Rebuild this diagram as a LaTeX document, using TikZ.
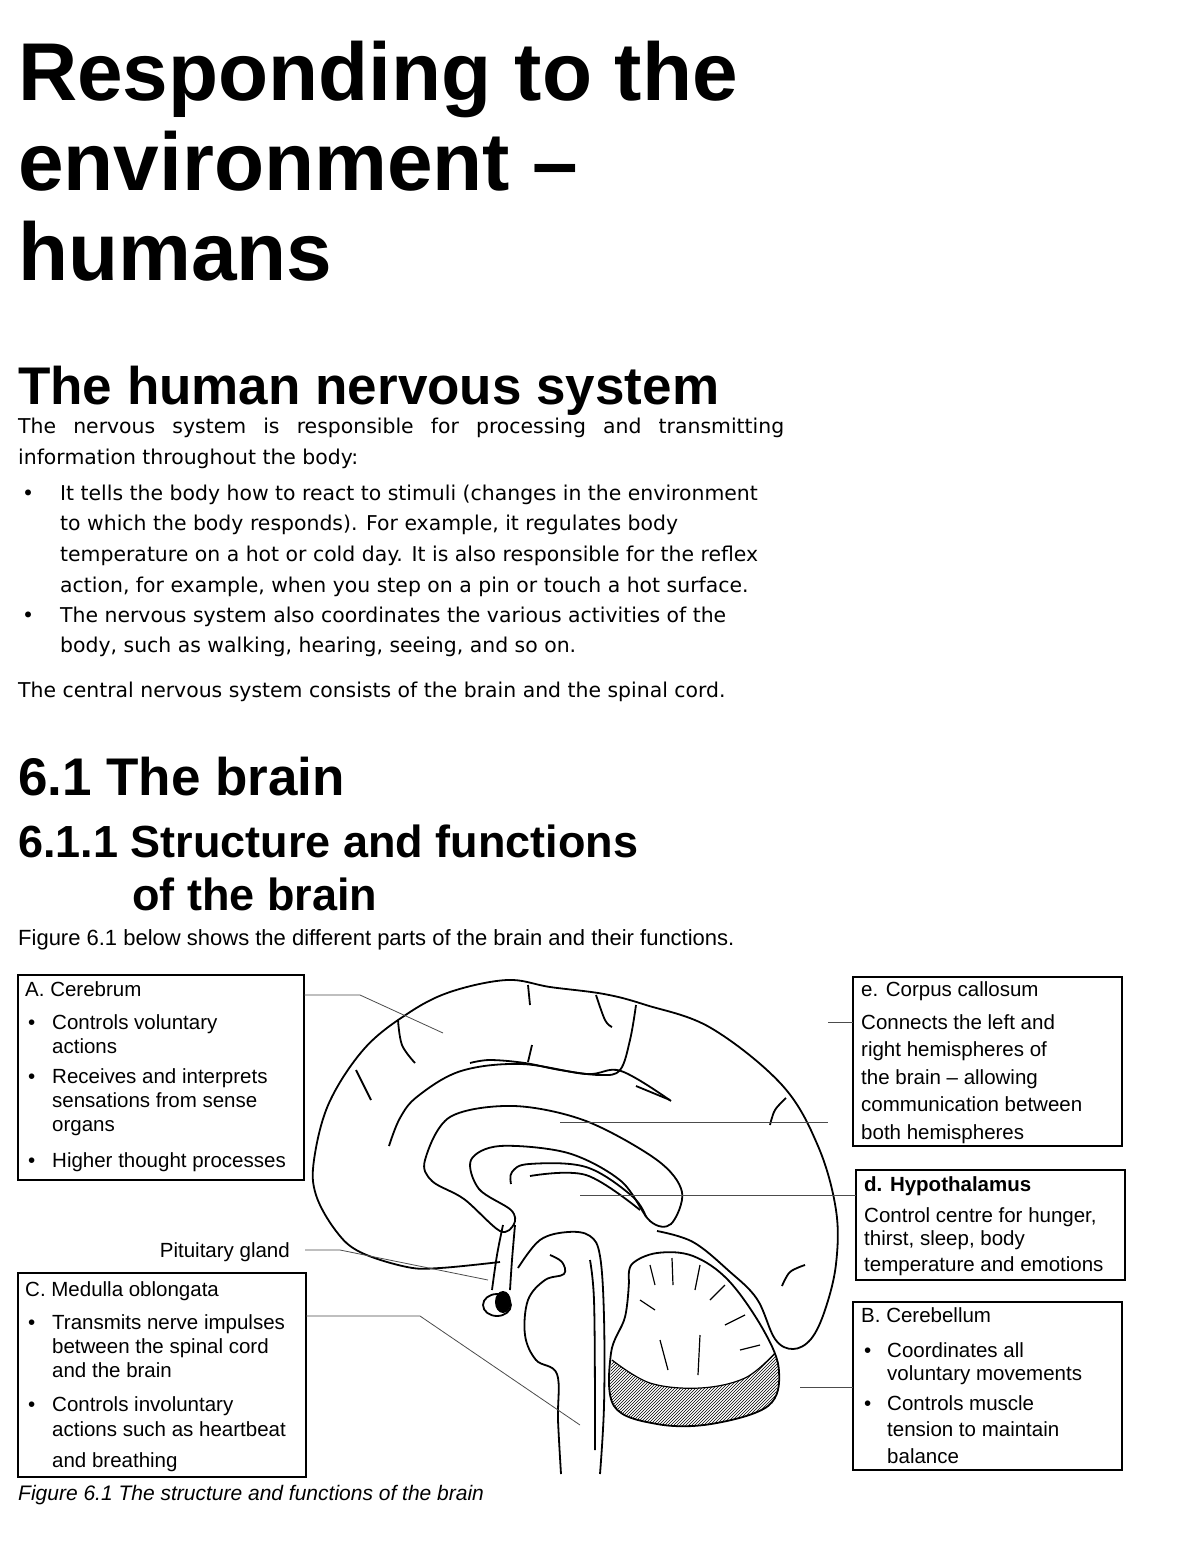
\documentclass[tikz,border=0pt]{standalone}
\usepackage{fontspec}
\setmainfont{Liberation Sans}
\newfontfamily\bodyf{DejaVu Sans}
\usetikzlibrary{patterns}
\begin{document}
\begin{tikzpicture}[x=1pt,y=-1pt,
  tl/.style={anchor=base west,inner sep=0pt,font=\fontsize{82}{82}\selectfont\bfseries},
  hd/.style={anchor=base west,inner sep=0pt,font=\fontsize{53}{53}\selectfont\bfseries},
  bd/.style={anchor=base west,inner sep=0pt,font=\bodyf\fontsize{20.4}{31}\selectfont},
  bx/.style={anchor=base west,inner sep=0pt,font=\fontsize{20.5}{22}\selectfont},
  box/.style={draw,line width=1.2pt},
  ln/.style={line width=0.8pt,gray!60!black},
  br/.style={line width=1.8pt,line join=round}]
\useasboundingbox (0,0) rectangle (1200,1553);
\fill[white] (0,0) rectangle (1200,1553);
% title
\node[tl] (t1) at (18,100) {Responding to the};
\node[tl] (t2) at (18,190) {environment –};
\node[tl] (t3) at (18,280) {humans};
\node[hd] (h1) at (18,404) {The human nervous system};
\node[bd,text width=766pt,align=justify,anchor=north west] (p1) at (18,418) {The nervous system is responsible for processing and transmitting\linebreak information throughout the body:};
\node[bd] (b1) at (22,500) {•};
\node[bd] (l1) at (60,500) {It tells the body how to react to stimuli (changes in the environment};
\node[bd] (l2) at (60,530) {to which the body responds). For example, it regulates body};
\node[bd] (l3) at (60,561) {temperature on a hot or cold day. It is also responsible for the reflex};
\node[bd] (l4) at (60,592) {action, for example, when you step on a pin or touch a hot surface.};
\node[bd] (b2) at (22,622) {•};
\node[bd] (l5) at (60,622) {The nervous system also coordinates the various activities of the};
\node[bd] (l6) at (60,652) {body, such as walking, hearing, seeing, and so on.};
\node[bd] (l7) at (18,697) {The central nervous system consists of the brain and the spinal cord.};
\node[hd] (h2) at (18,795) {6.1 The brain};
\node[hd,font=\fontsize{45}{45}\selectfont\bfseries] (h3) at (18,857) {6.1.1 Structure and functions};
\node[hd,font=\fontsize{45}{45}\selectfont\bfseries] (h4) at (132,910) {of the brain};
\node[bx,font=\fontsize{22}{22}\selectfont] (fig) at (18,945) {Figure 6.1 below shows the different parts of the brain and their functions.};
% boxes
\draw[box] (18,975) rectangle (304,1180);
\draw[box] (853,977) rectangle (1122,1146);
\draw[box] (856,1170) rectangle (1125,1280);
\draw[box] (18,1273) rectangle (306,1477);
\draw[box] (853,1302) rectangle (1122,1470);
% box A
\node[bx] (a0) at (25,996) {A. Cerebrum};
\node[bx] (a1) at (28,1029) {•}; \node[bx] (a2) at (52,1029) {Controls voluntary};
\node[bx] (a3) at (52,1053) {actions};
\node[bx] (a4) at (28,1083) {•}; \node[bx] (a5) at (52,1083) {Receives and interprets};
\node[bx] (a6) at (52,1107) {sensations from sense};
\node[bx] (a7) at (52,1131) {organs};
\node[bx] (a8) at (28,1167) {•}; \node[bx] (a9) at (52,1167) {Higher thought processes};
% box e
\node[bx] (e0) at (861,996) {e. Corpus callosum};
\node[bx] (e1) at (861,1029) {Connects the left and};
\node[bx] (e2) at (861,1056) {right hemispheres of};
\node[bx] (e3) at (861,1084) {the brain – allowing};
\node[bx] (e4) at (861,1111) {communication between};
\node[bx] (e5) at (861,1139) {both hemispheres};
% box d
\node[bx] (d0) at (864,1191) {\bfseries d. Hypothalamus};
\node[bx] (d1) at (864,1222) {Control centre for hunger,};
\node[bx] (d2) at (864,1245) {thirst, sleep, body};
\node[bx] (d3) at (864,1271) {temperature and emotions};
% pituitary
\node[bx,anchor=base east] (pg) at (290,1257) {Pituitary gland};
% box C
\node[bx] (c0) at (25,1296) {C. Medulla oblongata};
\node[bx] (c1) at (28,1329) {•}; \node[bx] (c2) at (52,1329) {Transmits nerve impulses};
\node[bx] (c3) at (52,1353) {between the spinal cord};
\node[bx] (c4) at (52,1377) {and the brain};
\node[bx] (c5) at (28,1411) {•}; \node[bx] (c6) at (52,1411) {Controls involuntary};
\node[bx] (c7) at (52,1436) {actions such as heartbeat};
\node[bx] (c8) at (52,1467) {and breathing};
% box B
\node[bx] (B0) at (861,1322) {B. Cerebellum};
\node[bx] (B1) at (864,1357) {•}; \node[bx] (B2) at (887,1357) {Coordinates all};
\node[bx] (B3) at (887,1380) {voluntary movements};
\node[bx] (B4) at (864,1410) {•}; \node[bx] (B5) at (887,1410) {Controls muscle};
\node[bx] (B6) at (887,1436) {tension to maintain};
\node[bx] (B7) at (887,1463) {balance};
\node[bx,font=\fontsize{21}{22}\selectfont\itshape] (cap) at (18,1500) {Figure 6.1 The structure and functions of the brain};
% brain outer
\draw[br] plot[smooth,tension=0.6] coordinates {(500,1262) (440,1268) (407,1267) (360,1252) (336,1231) (316,1195) (314,1160) (329,1103) (364,1049) (407,1014) (450,992) (507,980) (550,987) (604,994) (646,1005) (711,1028) (782,1085) (818,1146) (836,1210) (836,1264) (825,1310) (811,1339) (793,1349) (775,1339) (757,1299) (729,1271) (693,1242) (657,1231)};
% gyri
\draw[br] plot[smooth,tension=0.6] coordinates {(389,1146) (400,1118) (418,1096) (461,1071) (521,1064) (586,1074) (621,1071) (671,1101)};
\draw[br] plot[smooth,tension=0.6] coordinates {(398,1020) (402,1045) (415,1063)};
\draw[br] plot[smooth,tension=0.6] coordinates {(470,1063) (490,1060) (525,1063) (560,1070) (600,1075) (620,1070) (630,1040) (636,1005)};
\draw[br] plot[smooth,tension=0.6] coordinates {(528,1062) (532,1045)};
\draw[br] plot[smooth,tension=0.6] coordinates {(528,985) (530,1005)};
\draw[br] plot[smooth,tension=0.6] coordinates {(596,995) (605,1020) (612,1027)};
\draw[br] plot[smooth,tension=0.6] coordinates {(356,1070) (366,1090) (371,1100)};
\draw[br] plot[smooth,tension=0.6] coordinates {(636,1086) (670,1100)};
\draw[br] plot[smooth,tension=0.6] coordinates {(786,1098) (775,1110) (770,1125)};
\draw[br] plot[smooth,tension=0.6] coordinates {(805,1265) (790,1272) (782,1286)};
% corpus callosum
\draw[br] plot[smooth cycle,tension=0.55] coordinates {(425,1160) (450,1117) (514,1106) (586,1121) (657,1160) (682,1192) (671,1224) (650,1221) (621,1181) (568,1153) (500,1146) (471,1160) (479,1189) (511,1210) (514,1224) (500,1231) (464,1199) (432,1181)};
\draw[br] plot[smooth,tension=0.6] coordinates {(511,1184) (512,1172) (529,1164) (586,1167) (632,1196) (646,1217)};
\draw[br] plot[smooth,tension=0.6] coordinates {(530,1176) (586,1175) (640,1210)};
% stalk & pituitary
\draw[br] plot[smooth,tension=0.6] coordinates {(503,1225) (497,1255) (492,1290)};
\draw[br] plot[smooth,tension=0.6] coordinates {(515,1225) (512,1260) (510,1290)};
\draw[br] (497,1305) circle[x radius=14,y radius=11];
\fill (503,1302) ellipse[x radius=8,y radius=11];
% brainstem
\draw[br] plot[smooth,tension=0.6] coordinates {(518,1268) (540,1240) (568,1232) (590,1236) (600,1256) (604,1317) (604,1406) (600,1474)};
\draw[br] plot[smooth,tension=0.6] coordinates {(550,1255) (562,1262) (564,1274) (545,1280) (528,1300) (525,1335) (536,1360) (557,1374) (558,1420) (561,1474)};
\draw[br] plot[smooth,tension=0.6] coordinates {(590,1260) (594,1300) (595,1400) (595,1450)};
% cerebellum
\fill[pattern=north east lines] plot[smooth,tension=0.6] coordinates {(612,1360) (614,1406) (657,1424) (711,1424) (768,1406) (779,1371) (775,1353)} -- plot[smooth,tension=0.6] coordinates {(775,1353) (745,1378) (700,1388) (650,1383) (612,1360)} -- cycle;
\draw[br] plot[smooth,tension=0.6] coordinates {(629,1281) (632,1264) (657,1253) (693,1256) (729,1281) (764,1331) (779,1371) (768,1406) (711,1424) (657,1424) (614,1406) (611,1353) (625,1317) (629,1281)};
\draw[br,line width=1.2pt] plot[smooth,tension=0.6] coordinates {(612,1360) (650,1383) (700,1388) (745,1378) (775,1353)};
\foreach \a/\b in {{(650,1265)/(655,1285)},{(672,1258)/(673,1285)},{(700,1265)/(695,1290)},{(725,1285)/(710,1300)},{(745,1315)/(725,1325)},{(760,1345)/(740,1350)},{(640,1300)/(655,1310)},{(660,1340)/(668,1370)},{(700,1335)/(698,1375)}}
  \draw[br,line width=1.2pt] \a -- \b;
% connectors
\coordinate (ca) at (443,1033); \coordinate (ce) at (560,1122);
\coordinate (cd) at (580,1195); \coordinate (cp) at (488,1280);
\coordinate (cc) at (580,1425); \coordinate (cb) at (800,1387);
\draw[ln] (304,995) -- (360,995) -- (ca);
\draw[ln] (ce) -- (828,1122);
\draw[ln] (828,1022) -- (853,1022);
\draw[ln] (cd) -- (856,1195);
\draw[ln] (305,1250) -- (340,1250) -- (cp);
\draw[ln] (306,1316) -- (420,1316) -- (cc);
\draw[ln] (cb) -- (853,1387);
\end{tikzpicture}
\end{document}
